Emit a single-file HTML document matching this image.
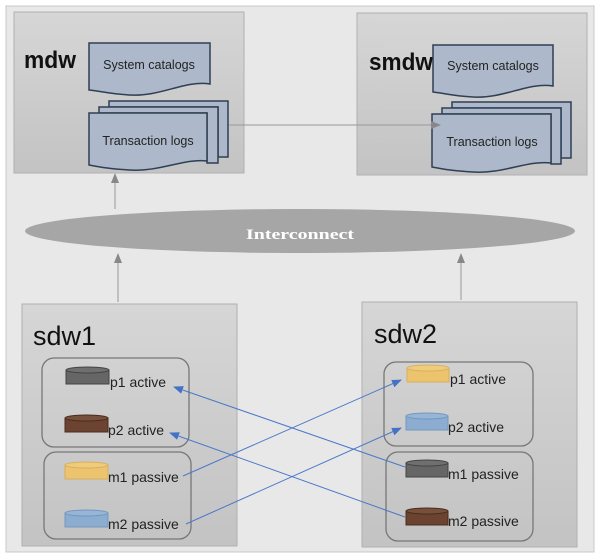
<!DOCTYPE html>
<html><head><meta charset="utf-8"><style>
html,body{margin:0;padding:0;background:#fff;}
svg{display:block;}
text{font-family:"Liberation Sans","DejaVu Sans",sans-serif;}
</style></head><body>
<svg width="600" height="560" viewBox="0 0 600 560" xmlns="http://www.w3.org/2000/svg">
<defs>
<linearGradient id="g" x1="0" y1="0" x2="0" y2="1"><stop offset="0" stop-color="#d6d6d6"/><stop offset="1" stop-color="#c3c3c3"/></linearGradient>
<marker id="ag" markerWidth="10" markerHeight="10" refX="9" refY="5" orient="auto" markerUnits="userSpaceOnUse"><path d="M0,1 L10,5 L0,9 Z" fill="#888"/></marker>
<marker id="ab" markerWidth="10" markerHeight="10" refX="9" refY="5" orient="auto" markerUnits="userSpaceOnUse"><path d="M0,1 L10,5 L0,9 Z" fill="#4472c4"/></marker>
</defs>
<rect x="0" y="0" width="600" height="560" fill="#fff"/>
<rect x="6" y="6" width="588" height="546" fill="#e8e8e8" stroke="#c8c8c8" stroke-width="1"/>

<!-- mdw -->
<rect x="14" y="12" width="230" height="161" fill="url(#g)" stroke="#b0b0b0"/>
<text x="24" y="68" font-size="24" fill="#111" font-weight="bold" textLength="52" lengthAdjust="spacingAndGlyphs">mdw</text>
<path d="M89,43 H210 V84 C185,80 160,97 130,95 C110,94 100,91 89,90 Z" fill="#adb9ca" stroke="#2f3f55" stroke-width="1.5"/>
<text x="149" y="69" font-size="12.5" fill="#222" text-anchor="middle">System catalogs</text>
<path d="M109,101 H228 V157 H218 V107 H109 Z" fill="#adb9ca" stroke="#2f3f55" stroke-width="1.5"/>
<path d="M99,107 H218 V163 H207 V113 H99 Z" fill="#adb9ca" stroke="#2f3f55" stroke-width="1.5"/>
<path d="M89,113 H207 V161 C185,158 160,172 130,170 C110,169 100,167 89,165 Z" fill="#adb9ca" stroke="#2f3f55" stroke-width="1.5"/>
<text x="148" y="145" font-size="12.5" fill="#222" text-anchor="middle">Transaction logs</text>

<!-- smdw -->
<rect x="357" y="13" width="230" height="162" fill="url(#g)" stroke="#b0b0b0"/>
<text x="369" y="70" font-size="24" fill="#111" font-weight="bold" textLength="64" lengthAdjust="spacingAndGlyphs">smdw</text>
<path d="M433,45 H553 V86 C528,82 503,99 473,97 C453,96 443,93 433,92 Z" fill="#adb9ca" stroke="#2f3f55" stroke-width="1.5"/>
<text x="493" y="70" font-size="12.5" fill="#222" text-anchor="middle">System catalogs</text>
<path d="M452,102 H571 V158 H561 V108 H452 Z" fill="#adb9ca" stroke="#2f3f55" stroke-width="1.5"/>
<path d="M442,108 H561 V164 H551 V114 H442 Z" fill="#adb9ca" stroke="#2f3f55" stroke-width="1.5"/>
<path d="M432,114 H551 V163 C528,160 503,174 473,172 C453,171 443,169 432,167 Z" fill="#adb9ca" stroke="#2f3f55" stroke-width="1.5"/>
<text x="492" y="146" font-size="12.5" fill="#222" text-anchor="middle">Transaction logs</text>

<line x1="229" y1="125" x2="440" y2="125" stroke="#999" stroke-width="1" marker-end="url(#ag)"/>

<!-- interconnect -->
<ellipse cx="300" cy="231" rx="275" ry="22" fill="#a6a6a6"/>
<text x="300" y="239" font-size="15" fill="#fff" text-anchor="middle" font-weight="bold" style="font-family:'Liberation Serif',serif" textLength="108" lengthAdjust="spacingAndGlyphs">Interconnect</text>

<line x1="115" y1="209" x2="115" y2="174" stroke="#999" marker-end="url(#ag)"/>
<line x1="118" y1="302" x2="118" y2="254" stroke="#999" marker-end="url(#ag)"/>
<line x1="461" y1="300" x2="461" y2="254" stroke="#999" marker-end="url(#ag)"/>

<!-- sdw1 -->
<rect x="22" y="304" width="215" height="242" fill="url(#g)" stroke="#b0b0b0"/>
<text x="33" y="345" font-size="27" fill="#111">sdw1</text>
<rect x="42" y="358" width="147" height="89" rx="12" fill="none" stroke="#777" stroke-width="1.3"/>
<rect x="44" y="452" width="147" height="87" rx="12" fill="none" stroke="#777" stroke-width="1.3"/>
<g stroke-width="1">
<rect x="66" y="370" width="43" height="14" fill="#666" stroke="#444"/><ellipse cx="87.5" cy="370" rx="21.5" ry="3" fill="#6f6f6f" stroke="#444"/>
<rect x="65" y="418" width="43" height="14" fill="#6b4330" stroke="#4a2c1e"/><ellipse cx="86.5" cy="418" rx="21.5" ry="3" fill="#76503b" stroke="#4a2c1e"/>
<rect x="65" y="465" width="43" height="14" fill="#ecc46e" stroke="#d8b060"/><ellipse cx="86.5" cy="465" rx="21.5" ry="3" fill="#efcb7c" stroke="#d8b060"/>
<rect x="65" y="513" width="43" height="14" fill="#8cacd0" stroke="#7298c0"/><ellipse cx="86.5" cy="513" rx="21.5" ry="3" fill="#97b5d6" stroke="#7298c0"/>
</g>
<text x="110" y="387" font-size="14" fill="#222">p1 active</text>
<text x="108" y="435" font-size="14" fill="#222">p2 active</text>
<text x="108" y="482" font-size="14" fill="#222">m1 passive</text>
<text x="108" y="529" font-size="14" fill="#222">m2 passive</text>

<!-- sdw2 -->
<rect x="362" y="302" width="215" height="245" fill="url(#g)" stroke="#b0b0b0"/>
<text x="374" y="343" font-size="27" fill="#111">sdw2</text>
<rect x="384" y="362" width="149" height="84" rx="12" fill="none" stroke="#777" stroke-width="1.3"/>
<rect x="386" y="452" width="147" height="89" rx="12" fill="none" stroke="#777" stroke-width="1.3"/>
<g stroke-width="1">
<rect x="407" y="368" width="42" height="14" fill="#ecc46e" stroke="#d8b060"/><ellipse cx="428" cy="368" rx="21" ry="3" fill="#efcb7c" stroke="#d8b060"/>
<rect x="406" y="416" width="42" height="14" fill="#8cacd0" stroke="#7298c0"/><ellipse cx="427" cy="416" rx="21" ry="3" fill="#97b5d6" stroke="#7298c0"/>
<rect x="406" y="463" width="42" height="14" fill="#666" stroke="#444"/><ellipse cx="427" cy="463" rx="21" ry="3" fill="#6f6f6f" stroke="#444"/>
<rect x="406" y="511" width="42" height="14" fill="#6b4330" stroke="#4a2c1e"/><ellipse cx="427" cy="511" rx="21" ry="3" fill="#76503b" stroke="#4a2c1e"/>
</g>
<text x="450" y="384" font-size="14" fill="#222">p1 active</text>
<text x="448" y="432" font-size="14" fill="#222">p2 active</text>
<text x="448" y="479" font-size="14" fill="#222">m1 passive</text>
<text x="448" y="526" font-size="14" fill="#222">m2 passive</text>

<!-- blue links -->
<g stroke="#4a78c8" stroke-width="1" fill="none">
<line x1="405" y1="467" x2="174" y2="387" marker-end="url(#ab)"/>
<line x1="405" y1="517" x2="170" y2="433" marker-end="url(#ab)"/>
<line x1="183" y1="476" x2="401" y2="380" marker-end="url(#ab)"/>
<line x1="186" y1="524" x2="401" y2="428" marker-end="url(#ab)"/>
</g>
</svg>
</body></html>
